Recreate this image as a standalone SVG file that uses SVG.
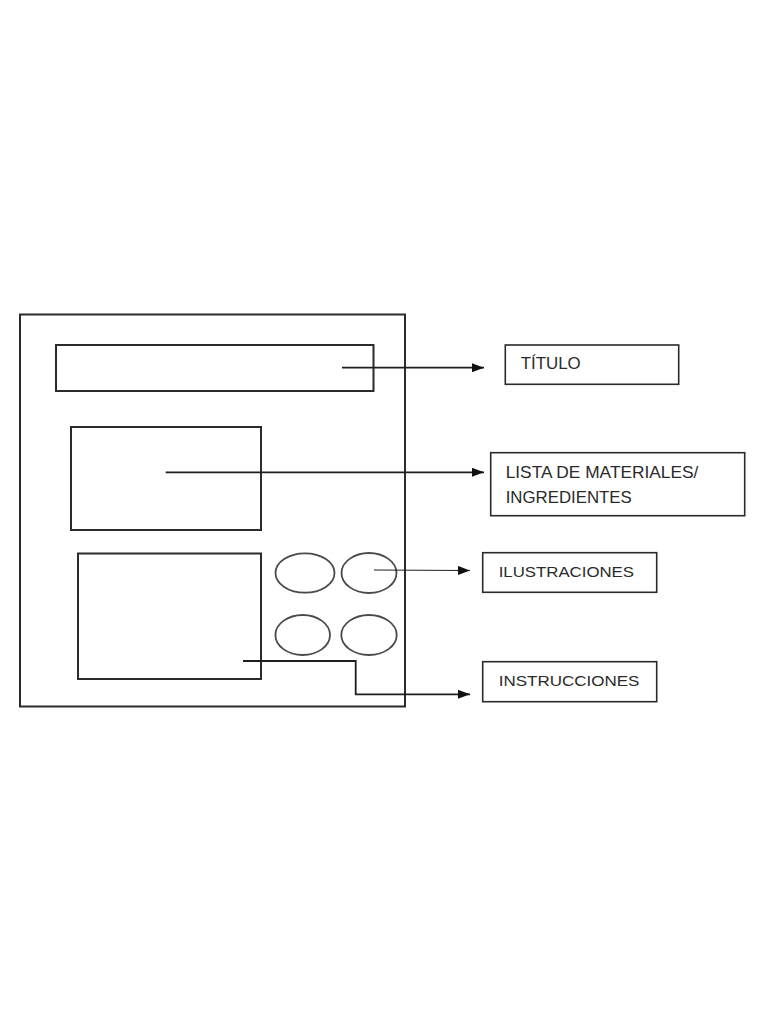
<svg xmlns="http://www.w3.org/2000/svg" width="768" height="1024" viewBox="0 0 768 1024">
<style>
.box{fill:none;stroke:#2b2b2b;stroke-width:2}
.ell{fill:none;stroke:#4a4a4a;stroke-width:1.8}
.lbl{fill:#fff;stroke:#2b2b2b;stroke-width:1.6}
.con{fill:none;stroke:#1e1e1e;stroke-width:1.8}
.thin{fill:none;stroke:#1e1e1e;stroke-width:1}
text{font-family:"Liberation Sans","Open Sans",sans-serif;fill:#2a2a2a}
</style>
<defs>
<marker id="arr" markerWidth="12" markerHeight="9" refX="12" refY="4.5" orient="auto" markerUnits="userSpaceOnUse">
<path d="M0,0 L12,4.5 L0,9 Z" fill="#111"/>
</marker>
</defs>
<rect width="768" height="1024" fill="#fff"/>
<g id="page">
<rect class="box" x="20" y="314.5" width="385" height="392"/>
</g>
<g id="title-area"><rect class="box" x="56" y="345" width="317.5" height="46"/></g>
<g id="materials-area"><rect class="box" x="71" y="427" width="190" height="103"/></g>
<g id="instructions-area"><rect class="box" x="78" y="553.5" width="183" height="125.5"/></g>
<g id="illustrations">
<ellipse class="ell" cx="305" cy="573" rx="29.5" ry="19.7"/>
<ellipse class="ell" cx="369" cy="573" rx="27.5" ry="20"/>
<ellipse class="ell" cx="302.7" cy="635" rx="27.3" ry="20"/>
<ellipse class="ell" cx="369" cy="635" rx="27.7" ry="20"/>
</g>
<g id="connectors">
<line class="con" x1="342" y1="367.7" x2="484" y2="367.7" marker-end="url(#arr)"/>
<line class="con" x1="165.7" y1="472.3" x2="484" y2="472.3" marker-end="url(#arr)"/>
<line class="thin" x1="374" y1="570" x2="470" y2="570.5" marker-end="url(#arr)"/>
<polyline class="con" points="243,661 355.7,661 355.7,694.3 470,694.3" marker-end="url(#arr)"/>
</g>
<g id="label-titulo">
<rect class="lbl" x="505.3" y="345" width="173.4" height="39.3"/>
<text x="520.7" y="369" font-size="17" textLength="60" lengthAdjust="spacingAndGlyphs">TÍTULO</text>
</g>
<g id="label-materiales">
<rect class="lbl" x="490.7" y="452.7" width="254" height="63"/>
<text x="505.7" y="478" font-size="17" textLength="192.7" lengthAdjust="spacingAndGlyphs">LISTA DE MATERIALES/</text>
<text x="505.7" y="503.3" font-size="17" textLength="126" lengthAdjust="spacingAndGlyphs">INGREDIENTES</text>
</g>
<g id="label-ilustraciones">
<rect class="lbl" x="482.7" y="552.7" width="174" height="39.6"/>
<text x="498.7" y="577" font-size="15" textLength="135.3" lengthAdjust="spacingAndGlyphs">ILUSTRACIONES</text>
</g>
<g id="label-instrucciones">
<rect class="lbl" x="482.7" y="661.7" width="174" height="40"/>
<text x="498.7" y="685.7" font-size="15" textLength="140.7" lengthAdjust="spacingAndGlyphs">INSTRUCCIONES</text>
</g>
</svg>
